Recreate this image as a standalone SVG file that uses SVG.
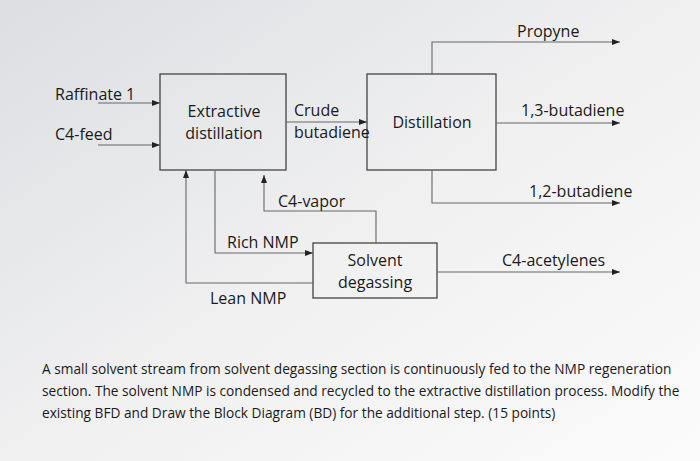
<svg xmlns="http://www.w3.org/2000/svg" width="700" height="461" viewBox="0 0 700 461">
<defs>
<linearGradient id="bg" x1="0" y1="0" x2="1" y2="1"><stop offset="0" stop-color="#dcdee1"/><stop offset="0.5" stop-color="#f0f0f1"/><stop offset="1" stop-color="#fbfbfb"/></linearGradient>
<marker id="a" markerWidth="8" markerHeight="6" refX="8" refY="3" orient="auto" markerUnits="userSpaceOnUse"><path d="M0,0 L8,3 L0,6 z" fill="#222"/></marker>
<style>
.b{fill:none;stroke:#444;stroke-width:1.3}
.c{fill:none;stroke:#666;stroke-width:1.1;marker-end:url(#a)}
text{font-family:"Open Sans","Liberation Sans",sans-serif;font-size:16px;fill:#1a1a1a}
.m{text-anchor:middle}
.p{font-size:13.7px}
</style>
</defs>
<rect width="700" height="461" fill="url(#bg)"/>
<g id="extractive"><rect class="b" x="160" y="74" width="126" height="96"/><text class="m" x="224" y="117">Extractive</text><text class="m" x="224" y="139">distillation</text></g>
<g id="distillation"><rect class="b" x="367" y="74" width="129" height="96"/><text class="m" x="432" y="128">Distillation</text></g>
<g id="degassing"><rect class="b" x="313" y="243" width="124" height="55"/><text class="m" x="375" y="266">Solvent</text><text class="m" x="375" y="288">degassing</text></g>
<g id="connectors">
<path class="c" d="M98,103 H160"/>
<path class="c" d="M98,145 H160"/>
<path class="c" d="M286,122 H367"/>
<path class="c" d="M432,74 V42 H620"/>
<path class="c" d="M496,123 H620"/>
<path class="c" d="M432,170 V203 H620"/>
<path class="c" d="M437,272 H620"/>
<path class="c" d="M313,283 H186 V170"/>
<path class="c" d="M215,170 V253 H313"/>
<path class="c" d="M376,243 V211 H264 V175"/>
</g>
<g id="labels">
<text x="55" y="100">Raffinate 1</text>
<text x="55" y="140">C4-feed</text>
<text x="294" y="116">Crude</text>
<text x="294" y="138">butadiene</text>
<text x="517" y="37">Propyne</text>
<text x="521" y="116">1,3-butadiene</text>
<text x="529" y="197">1,2-butadiene</text>
<text x="278" y="207">C4-vapor</text>
<text x="227" y="248">Rich NMP</text>
<text x="210" y="304">Lean NMP</text>
<text x="502" y="266">C4-acetylenes</text>
</g>
<g id="caption">
<text x="42" y="374" class="p">A small solvent stream from solvent degassing section is continuously fed to the NMP regeneration</text>
<text x="42" y="396" class="p">section. The solvent NMP is condensed and recycled to the extractive distillation process. Modify the</text>
<text x="42" y="418" class="p">existing BFD and Draw the Block Diagram (BD) for the additional step. (15 points)</text>
</g>
</svg>
